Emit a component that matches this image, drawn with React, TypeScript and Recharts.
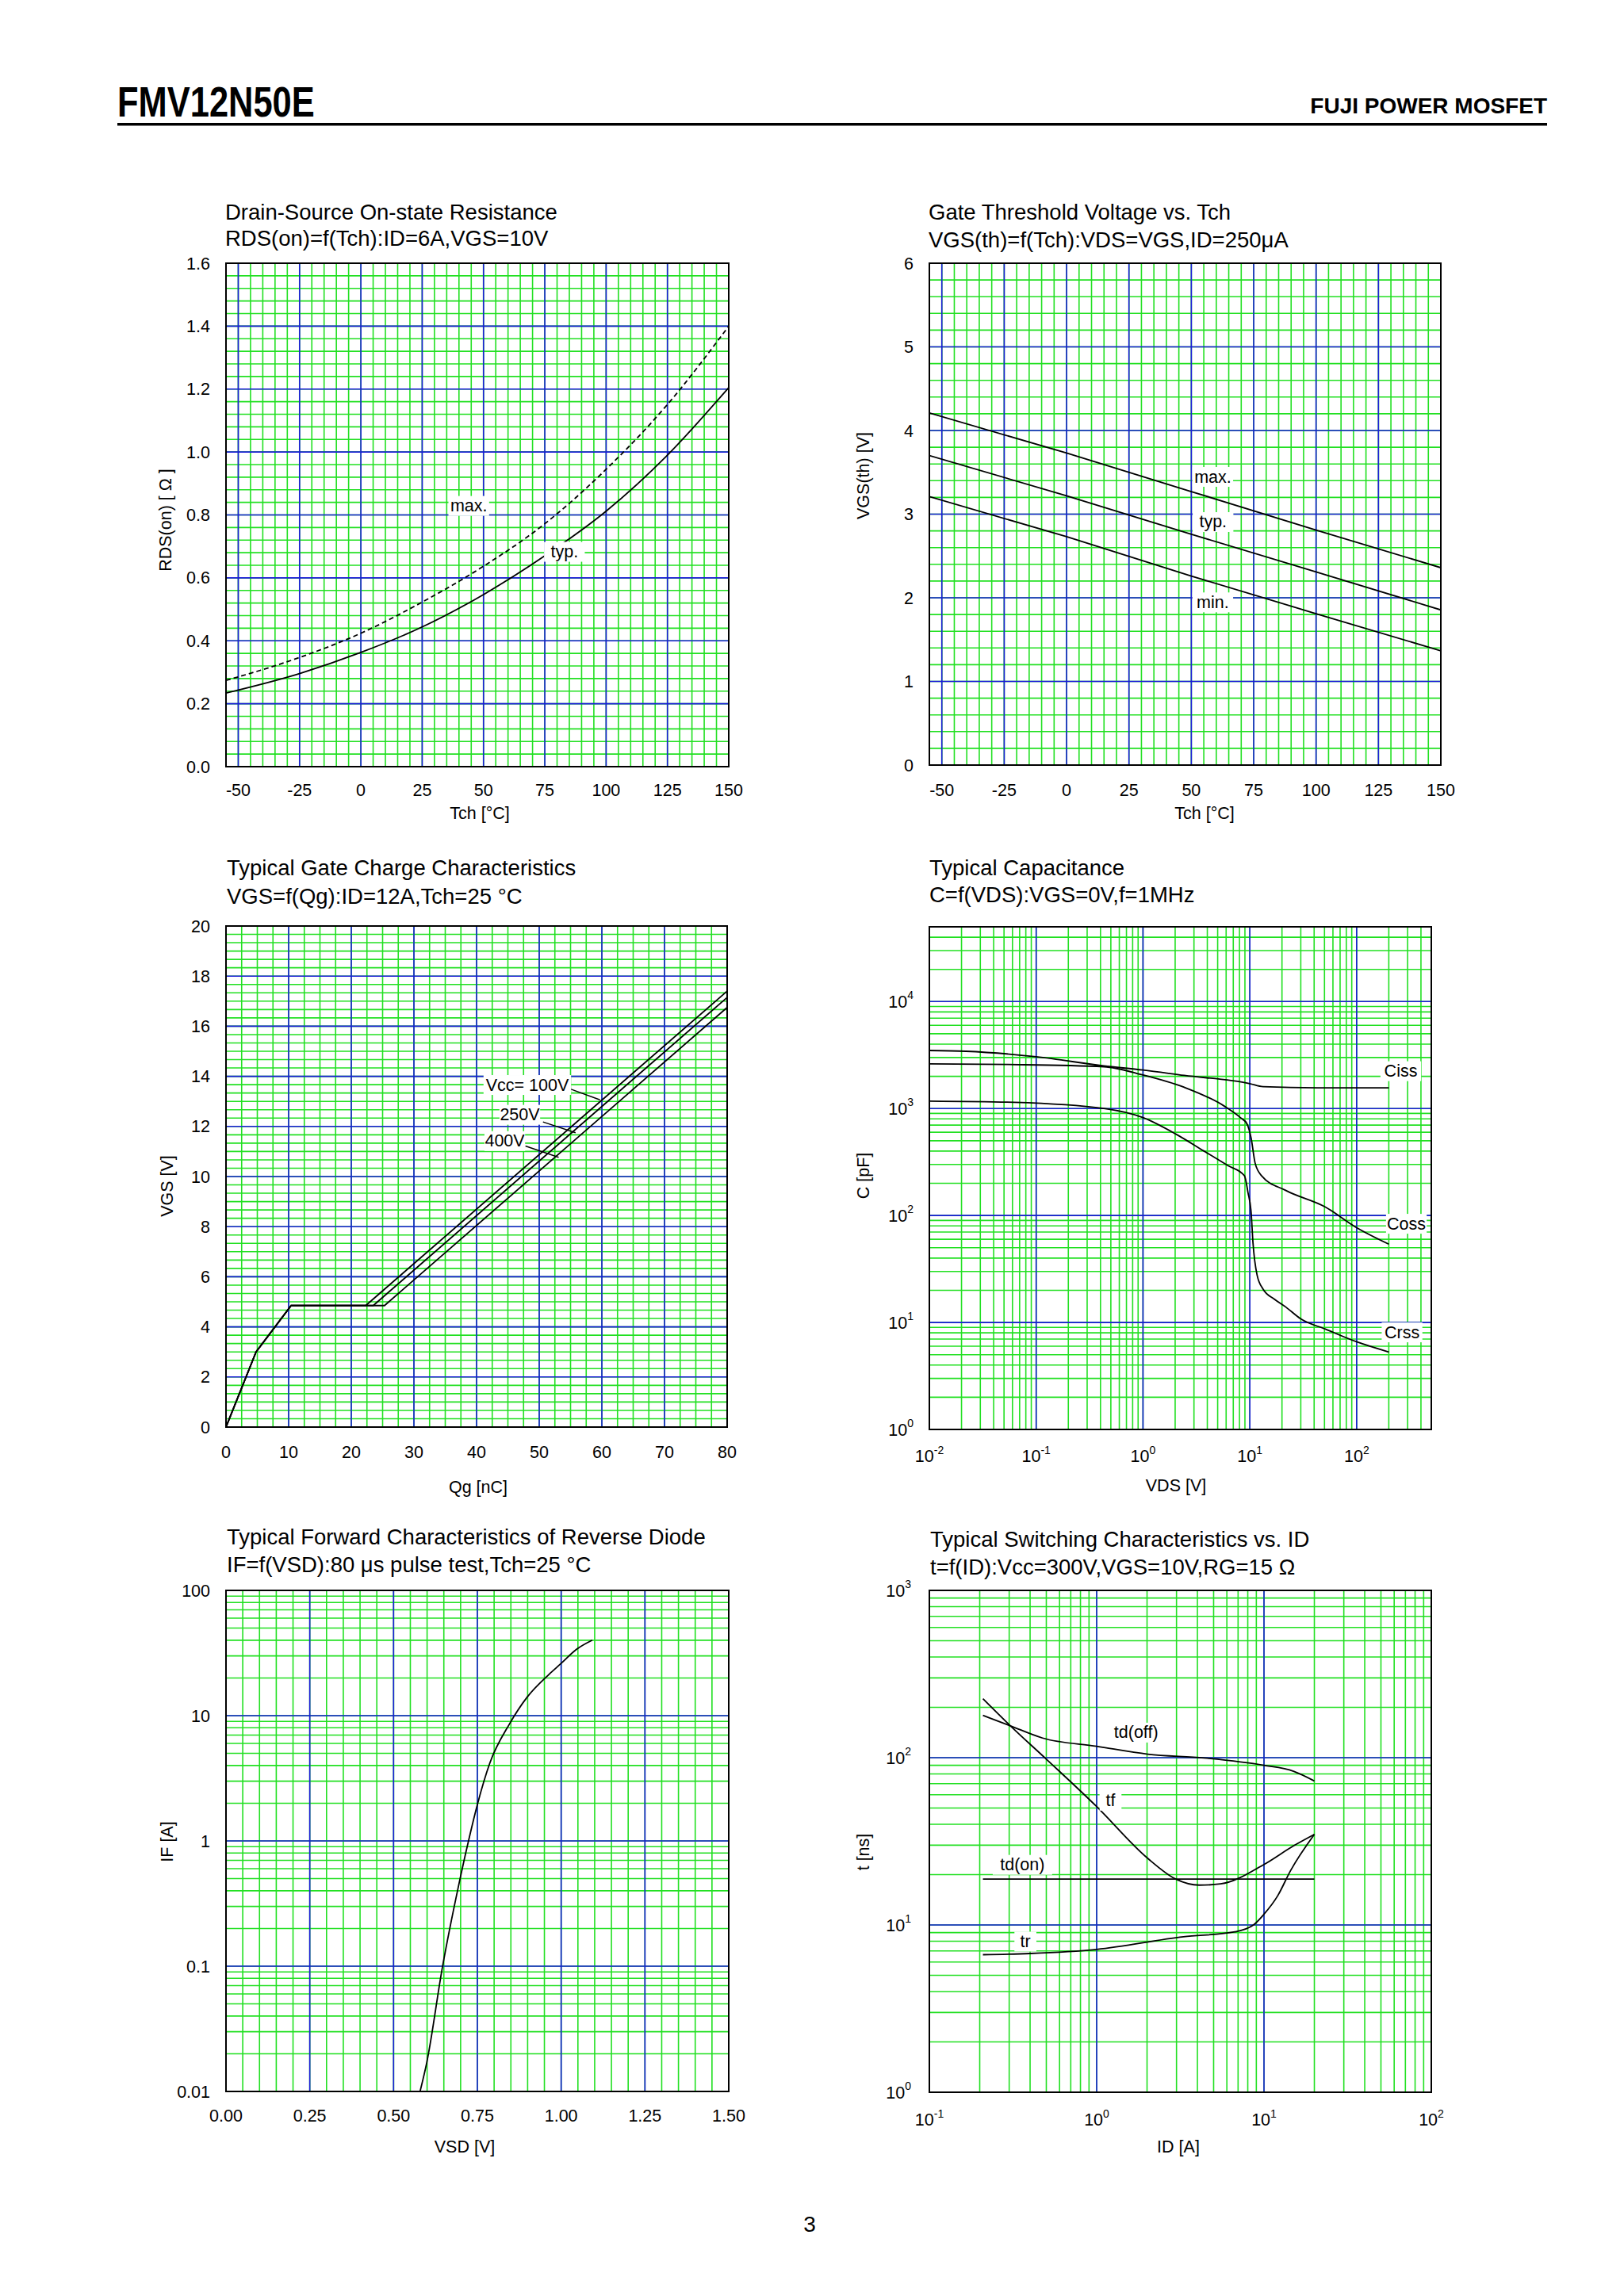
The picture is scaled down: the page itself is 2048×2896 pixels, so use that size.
import React from 'react';
import { LineChart, Line, XAxis, YAxis, CartesianGrid, ReferenceLine, ReferenceDot, ReferenceArea } from 'recharts';

const FONT = "'Liberation Sans', Arial, Helvetica, sans-serif";
const BLUE = '#1c1cd9';
const GREEN = '#22e022';
const INK = '#000';
const TICK = 21.5;
const TITLE = 27.5;

// RDS(on) vs Tch
const rdsTch = [-55, -25, 0, 25, 50, 75, 100, 125, 150];
const rdsTyp = [0.234, 0.296, 0.363, 0.444, 0.547, 0.67, 0.812, 0.99, 1.205];
const rdsMax = [0.274, 0.347, 0.424, 0.523, 0.637, 0.772, 0.945, 1.151, 1.4];

// VGS(th) vs Tch
const vthTch = [-55, 0, 50, 100, 150];
const vthMax = [4.21, 3.73, 3.27, 2.81, 2.36];
const vthTyp = [3.7, 3.22, 2.76, 2.31, 1.855];
const vthMin = [3.21, 2.73, 2.26, 1.81, 1.366];

// Gate charge
const qg100 = [0, 4.8, 10.4, 22.3, 80];
const vgs100 = [0, 3.0, 4.85, 4.85, 17.4];
const qg250 = [0, 4.8, 10.4, 23.5, 80];
const vgs250 = [0, 3.0, 4.85, 4.85, 17.15];
const qg400 = [0, 4.8, 10.4, 25.3, 80];
const vgs400 = [0, 3.0, 4.85, 4.85, 16.75];

// Capacitance
const cissV = [0.01, 0.022, 0.1, 0.43, 1, 2.43, 10, 13.3, 43, 200];
const cissC = [3490, 3430, 3050, 2505, 2290, 2040, 1710, 1600, 1560, 1560];
const cossV = [0.01, 0.055, 0.43, 1, 2.43, 5.8, 8.2, 9.4, 10.3, 11.2, 12.9, 21.6, 51, 100, 200];
const cossC = [2620, 2580, 2460, 2060, 1580, 1050, 820, 720, 525, 310, 235, 172, 120, 77, 54];
const crssV = [0.01, 0.062, 0.43, 1, 2.04, 3.7, 6.2, 8.9, 9.6, 10.3, 10.7, 11.7, 13.3, 17, 21.6, 30, 51, 100, 200];
const crssC = [1175, 1143, 1000, 822, 575, 402, 294, 236, 165, 105, 56, 27.7, 20.5, 16.5, 14.0, 10.8, 8.67, 6.6, 5.3];

// Reverse diode
const diodeV = [0.579, 0.599, 0.646, 0.693, 0.723, 0.75, 0.787, 0.846, 0.899, 0.964, 0.999, 1.046, 1.093];
const diodeI = [0.01, 0.017, 0.099, 0.427, 0.985, 1.95, 4.17, 8.6, 14.1, 21.4, 26, 33.9, 40.1];

// Switching times
const tdoffId = [0.209, 0.305, 0.475, 1, 2.02, 4.4, 10, 15, 20];
const tdoffT = [179, 155, 131, 117, 105, 99.5, 90, 83, 72.6];
const tfId = [0.209, 0.305, 0.5, 1, 2.02, 2.97, 4.1, 5.5, 10, 15, 20];
const tfT = [225, 155, 98, 51, 25, 18.8, 17.3, 17.6, 23, 29.7, 34.8];
const tdonId = [0.209, 20];
const tdonT = [18.8, 18.8];
const trId = [0.209, 0.4, 1, 3.3, 6.7, 8.65, 10, 12.1, 14.4, 20];
const trT = [6.64, 6.75, 7.14, 8.5, 9.1, 10, 11.6, 15, 21.1, 34.8];

const tchTicks = [-50, -25, 0, 25, 50, 75, 100, 125, 150];
const rdsTicks = [0, 0.2, 0.4, 0.6, 0.8, 1.0, 1.2, 1.4, 1.6];
const vthTicks = [0, 1, 2, 3, 4, 5, 6];
const qgTicks = [0, 10, 20, 30, 40, 50, 60, 70, 80];
const vgsTicks = [0, 2, 4, 6, 8, 10, 12, 14, 16, 18, 20];
const vdsTicks = [0.01, 0.1, 1, 10, 100];
const capTicks = [1, 10, 100, 1000, 10000];
const vsdTicks = [0, 0.25, 0.5, 0.75, 1.0, 1.25, 1.5];
const ifTicks = [0.01, 0.1, 1, 10, 100];
const idTicks = [0.1, 1, 10, 100];
const tTicks = [1, 10, 100, 1000];

const pts = (xs: number[], ys: number[]) => xs.map((x, i) => ({ x, y: ys[i] }));

const range = (a: number, b: number, step: number) => {
  const out: number[] = [];
  const n = Math.round((b - a) / step);
  for (let i = 0; i <= n; i++) out.push(+(a + i * step).toFixed(6));
  return out;
};

const logGrid = (lo: number, hi: number) => {
  const out: number[] = [];
  for (let d = Math.floor(Math.log10(lo)); d <= Math.ceil(Math.log10(hi)); d++) {
    for (let k = 1; k <= 9; k++) {
      const v = +(k * Math.pow(10, d)).toPrecision(6);
      if (v >= lo * 0.999 && v <= hi * 1.001) out.push(v);
    }
  }
  return out;
};

type Axis = {
  scale: 'linear' | 'log';
  domain: [number, number];
  ticks: number[];
  major: number[];
  minor: number[];
  fmt?: (v: number) => string;
};

const pow10 = (v: number) => Math.round(Math.log10(v));

const xTick = (a: Axis, dy: number) => (p: any) => {
  const v = p.payload.value;
  if (a.fmt) {
    return (
      <text x={p.x} y={p.y + dy} textAnchor="middle" fontSize={TICK} fontFamily={FONT} fill={INK}>
        {a.fmt(v)}
      </text>
    );
  }
  return (
    <text x={p.x} y={p.y + dy} textAnchor="middle" fontSize={TICK} fontFamily={FONT} fill={INK}>
      <tspan>10</tspan>
      <tspan dy={-10} fontSize={14}>{pow10(v)}</tspan>
    </text>
  );
};

const yTick = (a: Axis, gap: number) => (p: any) => {
  const v = p.payload.value;
  if (a.fmt) {
    return (
      <text x={p.x - gap} y={p.y + 7.5} textAnchor="end" fontSize={TICK} fontFamily={FONT} fill={INK}>
        {a.fmt(v)}
      </text>
    );
  }
  return (
    <text x={p.x - gap} y={p.y + 7.5} textAnchor="end" fontSize={TICK} fontFamily={FONT} fill={INK}>
      <tspan>10</tspan>
      <tspan dy={-11} fontSize={14}>{pow10(v)}</tspan>
    </text>
  );
};

// text label with a white box behind it, anchored by its centre
const tag = (x: number, y: number, text: string) => (
  <ReferenceDot
    key={`tag-${text}`}
    x={x}
    y={y}
    r={0}
    ifOverflow="visible"
    shape={(p: any) => {
      const w = text.length * TICK * 0.55 + 4;
      return (
        <g>
          <rect x={p.cx - w / 2} y={p.cy - 12} width={w} height={25} fill="#fff" />
          <text x={p.cx} y={p.cy + 7.5} textAnchor="middle" fontSize={TICK} fontFamily={FONT} fill={INK}>
            {text}
          </text>
        </g>
      );
    }}
  />
);

const curve = (key: string, data: { x: number; y: number }[], dashed = false, type: any = 'monotone') => (
  <Line
    key={key}
    data={data}
    dataKey="y"
    type={type}
    stroke={INK}
    strokeWidth={1.8}
    strokeDasharray={dashed ? '6 4' : undefined}
    dot={false}
    activeDot={false}
    isAnimationActive={false}
  />
);

type Box = { l: number; t: number; r: number; b: number };

function Panel({ box, xa, ya, xdy, ygap = 20, children }: { box: Box; xa: Axis; ya: Axis; xdy: number; ygap?: number; children?: any }) {
  const padL = 120;
  const padT = 30;
  const padR = 30;
  const padB = 60;
  const w = box.r - box.l + padL + padR;
  const h = box.b - box.t + padT + padB;
  return (
    <div style={{ position: 'absolute', left: box.l - padL, top: box.t - padT }}>
      <LineChart width={w} height={h} margin={{ top: padT, right: padR, bottom: 0, left: 0 }}>
        <CartesianGrid verticalValues={xa.minor} horizontalValues={ya.minor} stroke={GREEN} strokeWidth={1.6} />
        <CartesianGrid verticalValues={xa.major} horizontalValues={ya.major} stroke={BLUE} strokeWidth={1.6} />
        <XAxis
          type="number"
          dataKey="x"
          scale={xa.scale}
          domain={xa.domain}
          ticks={xa.ticks}
          interval={0}
          allowDataOverflow
          height={padB}
          axisLine={false}
          tickLine={false}
          tickSize={0}
          tickMargin={0}
          tick={xTick(xa, xdy)}
        />
        <YAxis
          type="number"
          dataKey="y"
          scale={ya.scale}
          domain={ya.domain}
          ticks={ya.ticks}
          interval={0}
          allowDataOverflow
          width={padL}
          axisLine={false}
          tickLine={false}
          tickSize={0}
          tickMargin={0}
          tick={yTick(ya, ygap)}
        />
        {children}
        <ReferenceArea x1={xa.domain[0]} x2={xa.domain[1]} y1={ya.domain[0]} y2={ya.domain[1]} fill="none" stroke={INK} strokeWidth={2} />
      </LineChart>
    </div>
  );
}

const tchAxis: Axis = { scale: 'linear', domain: [-55, 150], ticks: tchTicks, major: tchTicks, minor: range(-55, 150, 5), fmt: (v) => String(v) };
const rdsAxis: Axis = { scale: 'linear', domain: [0, 1.6], ticks: rdsTicks, major: rdsTicks, minor: range(0, 1.6, 0.04), fmt: (v) => v.toFixed(1) };
const vthAxis: Axis = { scale: 'linear', domain: [0, 6], ticks: vthTicks, major: vthTicks, minor: range(0, 6, 0.2), fmt: (v) => String(v) };
const qgAxis: Axis = { scale: 'linear', domain: [0, 80], ticks: qgTicks, major: qgTicks, minor: range(0, 80, 2.5), fmt: (v) => String(v) };
const vgsAxis: Axis = { scale: 'linear', domain: [0, 20], ticks: vgsTicks, major: vgsTicks, minor: range(0, 20, 1 / 3), fmt: (v) => String(v) };
const vdsAxis: Axis = { scale: 'log', domain: [0.01, 500], ticks: vdsTicks, major: vdsTicks, minor: logGrid(0.01, 500) };
const capAxis: Axis = { scale: 'log', domain: [1, 50000], ticks: capTicks, major: capTicks, minor: logGrid(1, 50000) };
const vsdAxis: Axis = { scale: 'linear', domain: [0, 1.5], ticks: vsdTicks, major: vsdTicks, minor: range(0, 1.5, 0.05), fmt: (v) => v.toFixed(2) };
const ifAxis: Axis = { scale: 'log', domain: [0.01, 100], ticks: ifTicks, major: ifTicks, minor: logGrid(0.01, 100), fmt: (v) => String(v) };
const idAxis: Axis = { scale: 'log', domain: [0.1, 100], ticks: idTicks, major: idTicks, minor: logGrid(0.1, 100) };
const tAxis: Axis = { scale: 'log', domain: [1, 1000], ticks: tTicks, major: tTicks, minor: logGrid(1, 1000) };

const T = (x: number, y: number, s: string, size = TICK, anchor: any = 'start') => (
  <text x={x} y={y} fontSize={size} fontFamily={FONT} fill={INK} textAnchor={anchor}>
    {s}
  </text>
);

const VT = (cx: number, cy: number, s: string) => (
  <text x={cx} y={cy} dy={7.5} fontSize={TICK} fontFamily={FONT} fill={INK} textAnchor="middle" transform={`rotate(-90 ${cx} ${cy})`}>
    {s}
  </text>
);

export default function App() {
  return (
    <div style={{ position: 'absolute', left: 0, top: 0, width: 2048, height: 2896, background: '#fff', overflow: 'hidden' }}>
      <svg width={2048} height={2896} style={{ position: 'absolute', left: 0, top: 0 }}>
        <text transform="translate(148,147) scale(0.82,1)" fontSize={53} fontWeight={700} fontFamily={FONT} fill={INK}>
          FMV12N50E
        </text>
        <text x={1951} y={143} fontSize={28} fontWeight={700} fontFamily={FONT} fill={INK} textAnchor="end">
          FUJI POWER MOSFET
        </text>
        <rect x={148} y={155} width={1803} height={3.5} fill={INK} />

        {T(284, 277, 'Drain-Source On-state Resistance', TITLE)}
        {T(284, 310, 'RDS(on)=f(Tch):ID=6A,VGS=10V', TITLE)}
        {T(1171, 277, 'Gate Threshold Voltage vs. Tch', TITLE)}
        {T(1171, 312, 'VGS(th)=f(Tch):VDS=VGS,ID=250μA', TITLE)}
        {T(286, 1104, 'Typical Gate Charge Characteristics', TITLE)}
        {T(286, 1140, 'VGS=f(Qg):ID=12A,Tch=25 °C', TITLE)}
        {T(1172, 1104, 'Typical Capacitance', TITLE)}
        {T(1172, 1138, 'C=f(VDS):VGS=0V,f=1MHz', TITLE)}
        {T(286, 1948, 'Typical Forward Characteristics of Reverse Diode', TITLE)}
        {T(286, 1983, 'IF=f(VSD):80 μs pulse test,Tch=25 °C', TITLE)}
        {T(1173, 1951, 'Typical Switching Characteristics vs. ID', TITLE)}
        {T(1173, 1986, 't=f(ID):Vcc=300V,VGS=10V,RG=15 Ω', TITLE)}

        {T(605, 1033, 'Tch [°C]', TICK, 'middle')}
        {T(1519, 1033, 'Tch [°C]', TICK, 'middle')}
        {T(603, 1883, 'Qg [nC]', TICK, 'middle')}
        {T(1483, 1881, 'VDS [V]', TICK, 'middle')}
        {T(586, 2715, 'VSD [V]', TICK, 'middle')}
        {T(1486, 2715, 'ID [A]', TICK, 'middle')}

        {VT(208, 656, 'RDS(on) [ Ω ]')}
        {VT(1088, 600, 'VGS(th) [V]')}
        {VT(210, 1496, 'VGS [V]')}
        {VT(1088, 1483, 'C [pF]')}
        {VT(210, 2323, 'IF [A]')}
        {VT(1088, 2336, 't [ns]')}

        {T(1021, 2815, '3', 28, 'middle')}
      </svg>

      <Panel box={{ l: 285, t: 332, r: 919, b: 967 }} xa={tchAxis} ya={rdsAxis} xdy={37}>
        {curve('rdsMax', pts(rdsTch, rdsMax), true)}
        {curve('rdsTyp', pts(rdsTch, rdsTyp))}
        {tag(44, 0.83, 'max.')}
        {tag(83, 0.684, 'typ.')}
      </Panel>

      <Panel box={{ l: 1172, t: 332, r: 1817, b: 965 }} xa={tchAxis} ya={vthAxis} xdy={39}>
        {curve('vthMax', pts(vthTch, vthMax), false, 'linear')}
        {curve('vthTyp', pts(vthTch, vthTyp), false, 'linear')}
        {curve('vthMin', pts(vthTch, vthMin), false, 'linear')}
        {tag(58.6, 3.45, 'max.')}
        {tag(58.7, 2.91, 'typ.')}
        {tag(58.6, 1.95, 'min.')}
      </Panel>

      <Panel box={{ l: 285, t: 1168, r: 917, b: 1800 }} xa={qgAxis} ya={vgsAxis} xdy={39}>
        {curve('q100', pts(qg100, vgs100), false, 'linear')}
        {curve('q250', pts(qg250, vgs250), false, 'linear')}
        {curve('q400', pts(qg400, vgs400), false, 'linear')}
        <ReferenceLine segment={[{ x: 54.9, y: 13.5 }, { x: 59.7, y: 13.06 }]} stroke={INK} strokeWidth={1.5} />
        <ReferenceLine segment={[{ x: 50.6, y: 12.18 }, { x: 55.8, y: 11.75 }]} stroke={INK} strokeWidth={1.5} />
        <ReferenceLine segment={[{ x: 47.8, y: 11.22 }, { x: 53.1, y: 10.77 }]} stroke={INK} strokeWidth={1.5} />
        {tag(48.1, 13.67, 'Vcc= 100V')}
        {tag(46.9, 12.48, '250V')}
        {tag(44.5, 11.43, '400V')}
      </Panel>

      <Panel box={{ l: 1172, t: 1169, r: 1805, b: 1803 }} xa={vdsAxis} ya={capAxis} xdy={41}>
        {curve('ciss', pts(cissV, cissC))}
        {curve('coss', pts(cossV, cossC))}
        {curve('crss', pts(crssV, crssC))}
        {tag(259, 2254, 'Ciss')}
        {tag(292, 84.4, 'Coss')}
        {tag(266, 8.15, 'Crss')}
      </Panel>

      <Panel box={{ l: 285, t: 2006, r: 919, b: 2638 }} xa={vsdAxis} ya={ifAxis} xdy={38}>
        {curve('diode', pts(diodeV, diodeI))}
      </Panel>

      <Panel box={{ l: 1172, t: 2006, r: 1805, b: 2639 }} xa={idAxis} ya={tAxis} xdy={42} ygap={23}>
        {curve('tdoff', pts(tdoffId, tdoffT))}
        {curve('tf', pts(tfId, tfT))}
        {curve('tdon', pts(tdonId, tdonT), false, 'linear')}
        {curve('tr', pts(trId, trT))}
        {tag(1.72, 142, 'td(off)')}
        {tag(1.21, 55.6, 'tf')}
        {tag(0.36, 23, 'td(on)')}
        {tag(0.375, 8.0, 'tr')}
      </Panel>
    </div>
  );
}
